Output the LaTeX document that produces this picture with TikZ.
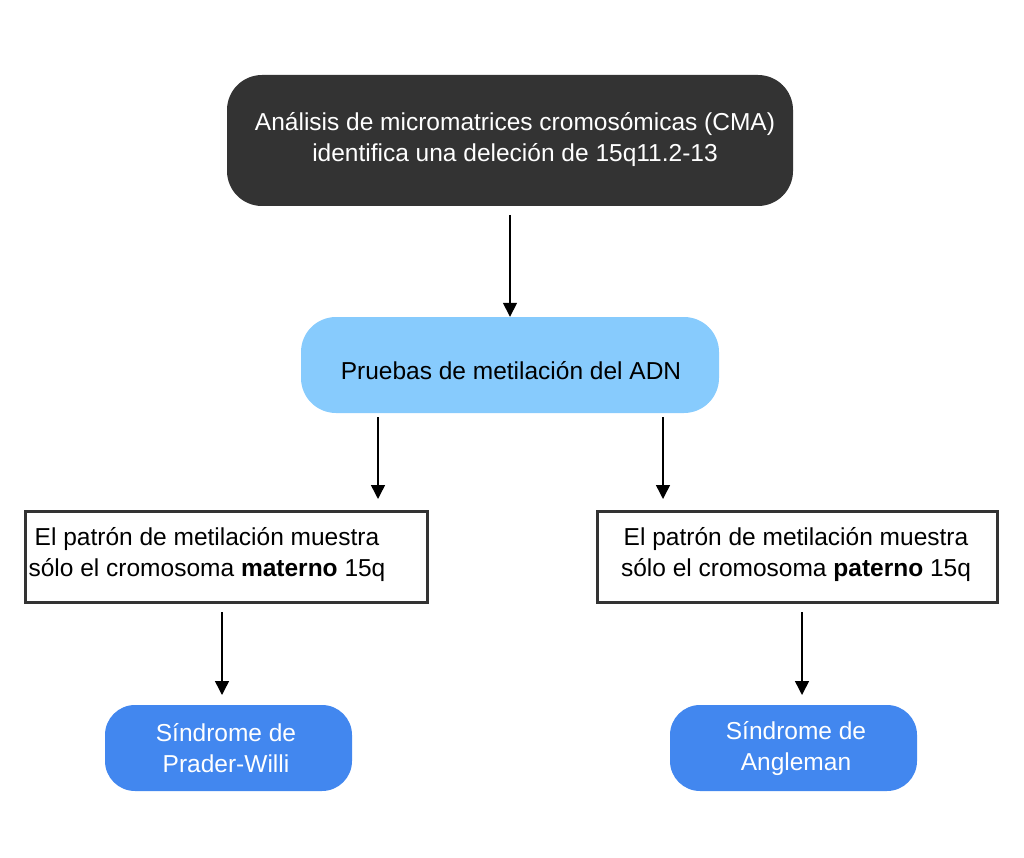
\documentclass[tikz,border=0pt]{standalone}
\usepackage{fontspec}
\setmainfont{Liberation Sans}
\usetikzlibrary{arrows.meta}
\definecolor{darkbox}{HTML}{333333}
\definecolor{lightblue}{HTML}{87CBFD}
\definecolor{midblue}{HTML}{4287EF}
\definecolor{rectborder}{HTML}{333333}
\tikzset{
  box/.style={minimum width=#1, inner sep=0pt, align=center},
  darkstyle/.style={fill=darkbox, text=white, rounded corners=35pt, minimum height=131pt},
  lightstyle/.style={fill=lightblue, text=black, rounded corners=35pt, minimum height=96pt},
  rectstyle/.style={draw=rectborder, line width=3pt, fill=white, minimum height=91pt},
  endstyle/.style={fill=midblue, text=white, rounded corners=30pt, minimum height=86pt},
  conn/.style={line width=1.5pt, -{Triangle[width=14pt,length=14pt]}},
  txt/.style={font=\fontsize{24.5}{31}\selectfont, align=center, inner sep=0pt}
}
\begin{document}
\begin{tikzpicture}[x=1pt,y=-1pt]
\useasboundingbox (0,0) rectangle (1024,858);
\node[box=566pt, darkstyle] (cma) at (510,140.5) {};
\node[txt, text=white] (cmat) at (515,140) {Análisis de micromatrices cromosómicas (CMA)\\identifica una deleción de 15q11.2-13};
\node[box=418pt, lightstyle] (adn) at (510,365) {};
\node[txt] (adnt) at (511,371) {Pruebas de metilación del ADN};
\node[box=402pt, rectstyle] (mat) at (226,556.5) {};
\node[txt] (matt) at (207,555) {El patrón de metilación muestra\\sólo el cromosoma \textbf{materno} 15q};
\node[box=400pt, rectstyle] (pat) at (797,556.5) {};
\node[txt] (patt) at (796,555) {El patrón de metilación muestra\\sólo el cromosoma \textbf{paterno} 15q};
\node[box=247pt, endstyle] (pw) at (228.5,748) {};
\node[txt, text=white] (pwt) at (226,748.5) {Síndrome de\\Prader-Willi};
\node[box=247pt, endstyle] (ang) at (793.5,748) {};
\node[txt, text=white] (angt) at (796,748.5) {Síndrome de\\Angleman};
\coordinate (a1) at (510,215);
\coordinate (b1) at (378,417);
\coordinate (b2) at (663,417);
\coordinate (b1e) at (378,499);
\coordinate (b2e) at (663,499);
\coordinate (c1) at (222,612);
\coordinate (c2) at (802,612);
\coordinate (c1e) at (222,695);
\coordinate (c2e) at (802,695);
\draw[conn] (a1) -- (a1 |- adn.north);
\draw[conn] (b1) -- (b1e);
\draw[conn] (b2) -- (b2e);
\draw[conn] (c1) -- (c1e);
\draw[conn] (c2) -- (c2e);
\end{tikzpicture}
\end{document}
